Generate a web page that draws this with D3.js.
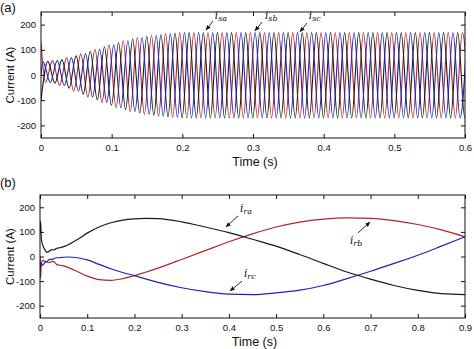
<!DOCTYPE html>
<html><head><meta charset="utf-8">
<script src="https://cdn.jsdelivr.net/npm/d3@7"></script>
<style>
html,body{margin:0;padding:0;background:#fff;}
svg{display:block;font-family:"Liberation Sans",Arial,sans-serif;}
</style></head><body>
<svg id="chart" width="474" height="349"></svg>
<script>
// ---------- Panel (a): stator currents, extremum values (every half cycle, 0.01 s) ----------
const halfPeriodA = 0.01;
// first extremum time of each phase
const startA = {blue: 0.003, black: 0.0097, red: 0.0063};
// value at t = 0 for each phase (start transient)
const initA = {blue: 0, black: -100, red: 130};
const isBlue = [52,-30,57,-41,68,-64,84,-87,102,-109,120,-130,136,-145,149,-156,158,-163,164,-168,
  168,-170,168,-170,168,-170,168,-170,168,-170,168,-170,168,-170,168,-170,168,-170,168,-170,
  168,-170,168,-170,168,-170,168,-170,168,-170,168,-170,168,-170,168,-170,168,-170,168,-170,168];
const isBlack = [54,-33,61,-52,76,-76,93,-98,111,-120,128,-138,143,-151,154,-160,161,-166,166,-170,
  168,-170,168,-170,168,-170,168,-170,168,-170,168,-170,168,-170,168,-170,168,-170,168,-170,
  168,-170,168,-170,168,-170,168,-170,168,-170,168,-170,168,-170,168,-170,168,-170,168,-170,168];
const isRed = [-30,57,-41,68,-64,84,-87,102,-109,120,-130,136,-145,149,-156,158,-163,164,-168,168,
  -170,168,-170,168,-170,168,-170,168,-170,168,-170,168,-170,168,-170,168,-170,168,-170,168,
  -170,168,-170,168,-170,168,-170,168,-170,168,-170,168,-170,168,-170,168,-170,168,-170,168,-170];
const xTicksA = [0,0.1,0.2,0.3,0.4,0.5,0.6];
const xTickLabelsA = ["0","0.1","0.2","0.3","0.4","0.5","0.6"];
const yTicks = [-200,-100,0,100,200];
const yTickLabels = ["-200","-100","0","100","200"];

// ---------- Panel (b): rotor currents ----------
const tB = [0,0.001,0.003,0.006,0.01,0.015,0.02,0.025,0.03,0.035,0.04,0.045,0.05,0.06,0.08,0.1,0.125,0.15,0.175,0.2,0.225,0.25,0.3,0.35,0.4,0.45,0.5,0.55,0.6,0.65,0.7,0.75,0.8,0.85,0.9];
const ira = [100,145,70,45,28,17,22,28,27,33,35,37,40,48,70,95,120,137,148,153,155,154,141,120,97,70,42,8,-28,-63,-92,-118,-138,-151,-155];
const irb = [-20,-90,-30,-15,-20,-22,-25,-20,-22,-32,-35,-36,-38,-45,-62,-80,-94,-97,-90,-78,-63,-47,-12,24,60,92,120,140,152,157,155,146,130,108,80];
const irc = [0,-40,-30,-35,-25,-20,-12,-12,-8,-5,-5,-4,-3,-2,-5,-14,-32,-50,-65,-78,-92,-105,-127,-143,-153,-155,-148,-137,-118,-90,-60,-28,5,42,80];
const xTicksB = [0,0.1,0.2,0.3,0.4,0.5,0.6,0.7,0.8,0.9];
const xTickLabelsB = ["0","0.1","0.2","0.3","0.4","0.5","0.6","0.7","0.8","0.9"];

// annotations in data coordinates: label position, arrow tail, arrow tip
const annA = [
  {sub:"sa", lt:0.246, lv:222, ft:0.2434, fv:214, tt:0.2335, tv:178},
  {sub:"sb", lt:0.317, lv:222, ft:0.3127, fv:210, tt:0.3028, tv:175},
  {sub:"sc", lt:0.379, lv:222, ft:0.3764, fv:206, tt:0.3665, tv:171}
];
const annB = [
  {sub:"ra", lt:0.4235, lv:181, ft:0.4193, fv:165, tt:0.3939, tv:120},
  {sub:"rc", lt:0.432, lv:-83, ft:0.4278, fv:-100, tt:0.4024, tv:-140},
  {sub:"rb", lt:0.6565, lv:51, ft:0.6734, fv:96, tt:0.6988, tv:140}
];

const colors = {red:"#b3262a", blue:"#2222b8", black:"#1a1a1a"};

const svg = d3.select("#chart");
const defs = svg.append("defs");
defs.append("marker").attr("id","arr").attr("viewBox","0 0 10 10").attr("refX",9).attr("refY",5)
  .attr("markerWidth",6).attr("markerHeight",6).attr("orient","auto-start-reverse")
  .append("path").attr("d","M0,1 L10,5 L0,9 z").attr("fill","#111");

function panel(cfg){
  const g = svg.append("g");
  const x = d3.scaleLinear().domain(cfg.xDomain).range([cfg.left, cfg.right]);
  const y = d3.scaleLinear().domain([-250,250]).range([cfg.bottom, cfg.top]);
  const cid = "clip"+cfg.id;
  defs.append("clipPath").attr("id",cid).append("rect")
    .attr("x",cfg.left).attr("y",cfg.top).attr("width",cfg.right-cfg.left).attr("height",cfg.bottom-cfg.top);
  const lines = g.append("g").attr("clip-path",`url(#${cid})`);
  cfg.series.forEach(s=>{
    lines.append("path").datum(s.pts)
      .attr("fill","none").attr("stroke",s.color).attr("stroke-width",cfg.lw)
      .attr("d", d3.line().x(d=>x(d[0])).y(d=>y(d[1])).curve(s.curve));
  });
  // axes
  const fmtX = d=>cfg.xLabels[cfg.xTicks.indexOf(d)];
  const fmtY = d=>yTickLabels[yTicks.indexOf(d)];
  const ax = [
    g.append("g").attr("transform",`translate(0,${cfg.bottom})`).call(d3.axisBottom(x).tickValues(cfg.xTicks).tickFormat(fmtX).tickSizeInner(-4).tickSizeOuter(0).tickPadding(6)),
    g.append("g").attr("transform",`translate(0,${cfg.top})`).call(d3.axisTop(x).tickValues(cfg.xTicks).tickFormat("").tickSizeInner(-4).tickSizeOuter(0)),
    g.append("g").attr("transform",`translate(${cfg.left},0)`).call(d3.axisLeft(y).tickValues(yTicks).tickFormat(fmtY).tickSizeInner(-4).tickSizeOuter(0).tickPadding(5)),
    g.append("g").attr("transform",`translate(${cfg.right},0)`).call(d3.axisRight(y).tickValues(yTicks).tickFormat("").tickSizeInner(-4).tickSizeOuter(0))
  ];
  ax.forEach(a=>{
    a.select(".domain").remove();
    a.selectAll("text").attr("font-size",9.5).attr("fill","#111").attr("font-family","Liberation Sans, Arial, sans-serif");
    a.selectAll("line").attr("stroke","#111");
  });
  g.append("rect").attr("x",cfg.left).attr("y",cfg.top).attr("width",cfg.right-cfg.left).attr("height",cfg.bottom-cfg.top)
    .attr("fill","none").attr("stroke","#111").attr("stroke-width",1);
  // labels
  g.append("text").attr("x",(cfg.left+cfg.right)/2+2).attr("y",cfg.bottom+28).attr("text-anchor","middle")
    .attr("font-size",12.5).attr("fill","#111").text("Time (s)");
  g.append("text").attr("transform",`translate(13.5,${(cfg.top+cfg.bottom)/2}) rotate(-90)`).attr("text-anchor","middle")
    .attr("font-size",11.5).attr("fill","#111").text("Current (A)");
  g.append("text").attr("x",0).attr("y",cfg.tagY).attr("font-size",13).attr("fill","#111").text(cfg.tag);
  // annotations
  cfg.ann.forEach(a=>{
    g.append("line").attr("x1",x(a.ft)).attr("y1",y(a.fv)).attr("x2",x(a.tt)).attr("y2",y(a.tv))
      .attr("stroke","#111").attr("stroke-width",0.9).attr("marker-end","url(#arr)");
    const t = g.append("text").attr("x",x(a.lt)).attr("y",y(a.lv)).attr("font-family","DejaVu Serif, Liberation Serif, serif")
      .attr("font-style","italic").attr("fill","#111").attr("font-size",10.5);
    t.append("tspan").text("i");
    t.append("tspan").attr("font-size",8).attr("dy",2).text(a.sub);
  });
}

function extremaSeries(start, init, vals){
  const pts = [[0, init]];
  vals.forEach((v,i)=>pts.push([start + i*halfPeriodA, v]));
  return pts;
}

panel({id:"a", left:41, right:465, top:12, bottom:138, tagY:12, tag:"(a)", lw:1.1,
  xDomain:[0,0.6], xTicks:xTicksA, xLabels:xTickLabelsA, ann:annA,
  series:[
    {pts:extremaSeries(startA.red, initA.red, isRed), color:colors.red, curve:d3.curveMonotoneX},
    {pts:extremaSeries(startA.black, initA.black, isBlack), color:colors.black, curve:d3.curveMonotoneX},
    {pts:extremaSeries(startA.blue, initA.blue, isBlue), color:colors.blue, curve:d3.curveMonotoneX}
  ]});

panel({id:"b", left:40, right:465, top:195, bottom:318, tagY:187, tag:"(b)", lw:1.2,
  xDomain:[0,0.9], xTicks:xTicksB, xLabels:xTickLabelsB, ann:annB,
  series:[
    {pts:tB.map((t,i)=>[t,irb[i]]), color:colors.red, curve:d3.curveMonotoneX},
    {pts:tB.map((t,i)=>[t,irc[i]]), color:colors.blue, curve:d3.curveMonotoneX},
    {pts:tB.map((t,i)=>[t,ira[i]]), color:colors.black, curve:d3.curveMonotoneX}
  ]});
</script>
</body></html>
